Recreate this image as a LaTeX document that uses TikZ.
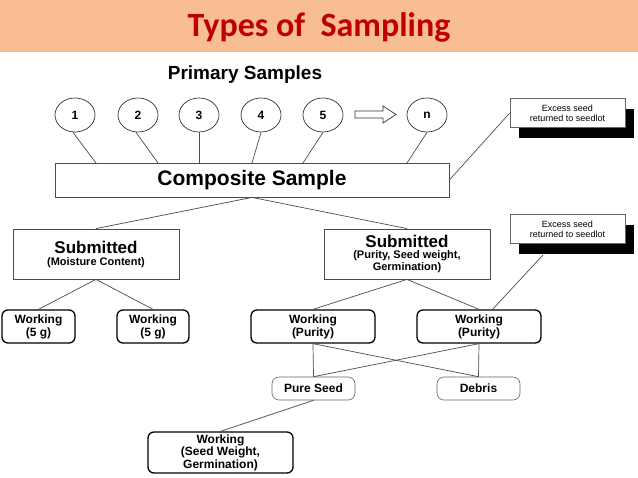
\documentclass[tikz,border=0pt]{standalone}
\usepackage{fontspec}
\setmainfont{Liberation Sans}
\newfontfamily\titlefont{Carlito}
\usetikzlibrary{shapes.geometric,shadows}
\definecolor{peach}{RGB}{248,190,146}
\definecolor{titlered}{RGB}{192,0,0}
\newcommand{\bigf}{\fontsize{17}{19}\selectfont}
\newcommand{\smallf}{\fontsize{11}{13}\selectfont}
\tikzset{
 ln/.style={draw=black!70,line width=0.7pt},
 circ/.style={draw=black!80,ellipse,minimum width=40pt,minimum height=34pt,line width=0.7pt,font=\bfseries\fontsize{12}{12}\selectfont},
 sqbox/.style={draw=black!70,line width=0.8pt,align=center,inner sep=0pt,font=\bfseries},
 workbox/.style={draw=black,rounded corners=6pt,line width=1.3pt,align=center,inner sep=0pt,font=\bfseries\fontsize{12}{13}\selectfont},
 thinbox/.style={draw=black!60,rounded corners=7pt,line width=0.6pt,align=center,inner sep=0pt,font=\bfseries\fontsize{12}{13}\selectfont},
 excess/.style={draw=black!60,fill=white,line width=0.6pt,align=center,inner sep=0pt,minimum width=115pt,minimum height=29pt,font=\fontsize{9}{10}\selectfont,
   drop shadow={shadow xshift=9pt,shadow yshift=-11pt,fill=black,opacity=1}},
}
\begin{document}
\begin{tikzpicture}[x=1pt,y=-1pt]
\useasboundingbox (0,0) rectangle (638,478);
\fill[peach] (0,0) rectangle (638,52);
\node (title) at (319,27) {\titlefont\bfseries\fontsize{34}{34}\selectfont\color{titlered}Types of\ \ Sampling};
\node (prim) at (245,75) {\bfseries\fontsize{19}{19}\selectfont Primary Samples};
\node[circ] (c1) at (75,115) {1};
\node[circ] (c2) at (138,115) {2};
\node[circ] (c3) at (199,115) {3};
\node[circ] (c4) at (261,115) {4};
\node[circ] (c5) at (323,115) {5};
\node[circ] (cn) at (427,115) {n};
\draw[draw=black!80,line width=0.7pt,fill=white] (355,111)--(383,111)--(383,106)--(396,114.5)--(383,123)--(383,118)--(355,118)--cycle;
\node[sqbox,minimum width=394pt,minimum height=34pt,font=\bfseries\fontsize{21}{21}\selectfont] (comp) at (252,180) {Composite Sample};
\node[excess] (ex1) at (567.5,113) {Excess seed\\returned to seedlot};
\node[excess] (ex2) at (567.5,229) {Excess seed\\returned to seedlot};
\node[sqbox,minimum width=166pt,minimum height=50pt] (subL) at (96,254) {\bigf Submitted\\[0pt]\smallf (Moisture Content)};
\node[sqbox,minimum width=166pt,minimum height=50pt] (subR) at (407,254) {\bigf Submitted\\[-1pt]\smallf (Purity, Seed weight,\\\smallf Germination)};
\node[workbox,minimum width=73pt,minimum height=33pt] (w1) at (38.5,326.5) {Working\\(5 g)};
\node[workbox,minimum width=72pt,minimum height=33pt] (w2) at (153,326.5) {Working\\(5 g)};
\node[workbox,minimum width=124pt,minimum height=33pt] (wp1) at (313,326.5) {Working\\(Purity)};
\node[workbox,minimum width=124pt,minimum height=33pt] (wp2) at (479,326.5) {Working\\(Purity)};
\node[thinbox,minimum width=83pt,minimum height=23pt] (ps) at (313.5,388.5) {Pure Seed};
\node[thinbox,minimum width=83pt,minimum height=23pt] (deb) at (478.5,388.5) {Debris};
\node[workbox,minimum width=145pt,minimum height=41pt,font=\bfseries\fontsize{12}{12.5}\selectfont] (wsw) at (220.5,452.5) {Working\\(Seed Weight,\\Germination)};
\draw[ln] (c1.south) ++(-2,0) -- (96,163);
\draw[ln] (c2.south) ++(-2,0) -- (158,163);
\draw[ln] (c3.south) -- (c3.south |- comp.north);
\draw[ln] (c4.south) -- (252,163);
\draw[ln] (c5.south) -- (303,163);
\draw[ln] (cn.south) -- (407,163);
\draw[ln] (comp.east) -- (ex1.west);
\draw[ln] (comp.south) -- (subL.north);
\draw[ln] (comp.south) -- (subR.north);
\draw[ln] (subL.south) -- (w1.north);
\draw[ln] (subL.south) -- (w2.north);
\draw[ln] (subR.south) -- (wp1.north);
\draw[ln] (subR.south) -- (wp2.north);
\draw[ln] (543,255) -- (492,310);
\draw[ln] (wp1.south) -- (ps.north);
\draw[ln] (wp1.south) -- (deb.north);
\draw[ln] (wp2.south) -- (ps.north);
\draw[ln] (wp2.south) -- (deb.north);
\draw[ln] (ps.south) -- (wsw.north);
\end{tikzpicture}
\end{document}
